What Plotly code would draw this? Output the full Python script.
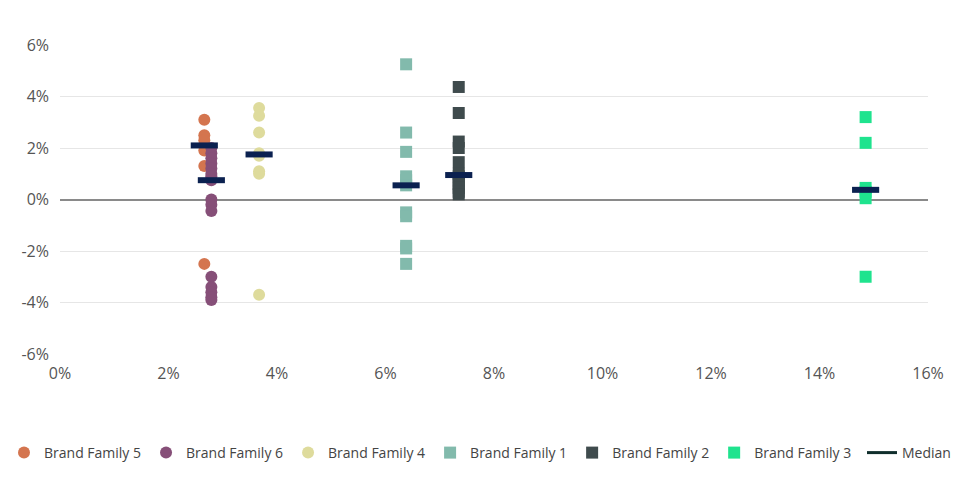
import numpy as np
import plotly.graph_objects as go

# ---- data (percent values) ----
series_names = ["Brand Family 5", "Brand Family 6", "Brand Family 4",
                "Brand Family 1", "Brand Family 2", "Brand Family 3"]
series_x = [2.66, 2.79, 3.67, 6.38, 7.35, 14.85]
bf5 = [3.1, 2.5, 2.3, 1.9, 1.3, -2.5]
bf6 = [2.0, 1.8, 1.6, 1.4, 1.2, 1.0, 0.9, 0.8, 0.75, 0.0, -0.2, -0.45, -3.0, -3.4, -3.6, -3.8, -3.9]
bf4 = [3.55, 3.25, 2.6, 1.8, 1.7, 1.1, 1.0, -3.7]
bf1 = [5.25, 2.6, 1.85, 0.9, 0.75, 0.55, -0.5, -0.65, -1.8, -1.9, -2.5]
bf2 = [4.37, 3.36, 2.25, 2.0, 1.45, 1.0, 0.9, 0.75, 0.6, 0.45, 0.3, 0.2]
bf3 = [3.2, 2.2, 0.45, 0.3, 0.05, -3.0]
series_values = [bf5, bf6, bf4, bf1, bf2, bf3]
series_colors = ["#D4754F", "#864F78", "#DEDB9C", "#82BAAC", "#3F4B4D", "#1FE38E"]
series_symbols = ["circle", "circle", "circle", "square", "square", "square"]
median_color = "#0B2150"
median_legend_color = "#102E2C"
x_ticks = [0, 2, 4, 6, 8, 10, 12, 14, 16]
y_ticks = [-6, -4, -2, 0, 2, 4, 6]
median_halfwidth = 0.25

FONT = "Open Sans"

fig = go.Figure()
for name, xv, vals, col, sym in zip(series_names, series_x, series_values, series_colors, series_symbols):
    fig.add_trace(go.Scatter(
        x=[xv] * len(vals), y=vals, mode="markers", name=name, legend="legend",
        marker=dict(color=col, symbol=sym, size=12, line=dict(width=0)),
    ))

mx, my = [], []
for xv, vals in zip(series_x, series_values):
    m = float(np.median(vals))
    mx += [xv - median_halfwidth, xv + median_halfwidth, None]
    my += [m, m, None]
fig.add_trace(go.Scatter(x=mx, y=my, mode="lines", name="Median", showlegend=False,
                         line=dict(color=median_color, width=6)))
# legend entry for the median marks
fig.add_trace(go.Scatter(x=[None], y=[None], mode="lines", name="Median", legend="legend2",
                         line=dict(color=median_legend_color, width=3)))

legend_common = dict(orientation="h", xref="container", yref="container",
                     xanchor="left", y=0.094, yanchor="middle",
                     font=dict(family=FONT, size=14, color="#444444"),
                     itemsizing="trace", tracegroupgap=0,
                     bgcolor="rgba(0,0,0,0)")

fig.update_layout(
    width=960, height=500,
    margin=dict(l=60, r=32, t=45, b=146, autoexpand=False),
    paper_bgcolor="white", plot_bgcolor="white",
    font=dict(family=FONT, size=16, color="#555555"),
    showlegend=True,
    legend=dict(x=4 / 960, **legend_common),
    legend2=dict(x=862 / 960, **legend_common),
    xaxis=dict(range=[0, 16], tickvals=x_ticks, ticktext=[f"{t}%" for t in x_ticks],
               showgrid=False, zeroline=False, showline=False, ticks="",
               ticklabelstandoff=8),
    yaxis=dict(range=[-6, 6], tickvals=y_ticks, ticktext=[f"{t}%" for t in y_ticks],
               showgrid=True, gridcolor="#E6E6E6", gridwidth=1,
               zeroline=True, zerolinecolor="#8A8A8A", zerolinewidth=1.5,
               showline=False, ticks="", ticklabelstandoff=10),
)

fig.write_html("out.html")
